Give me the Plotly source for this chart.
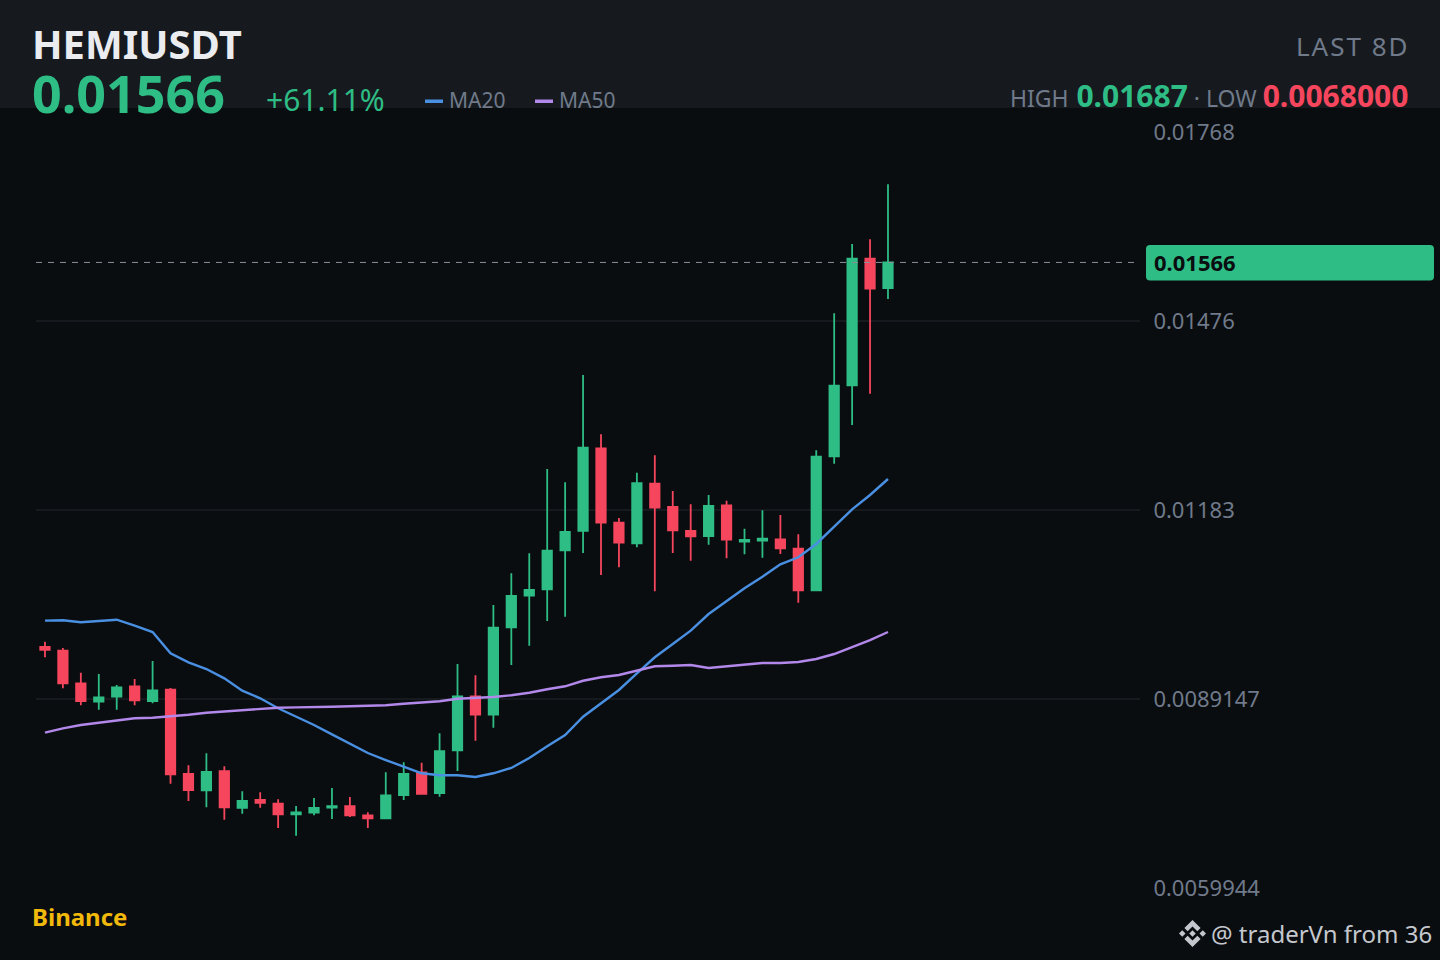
import plotly.graph_objects as go

W = 1440
H = 960

SYMBOL = "HEMIUSDT"
LAST_PRICE = 0.01566
LAST_LABEL = "0.01566"
CHANGE = "+61.11%"
HIGH_LABEL = "0.01687"
LOW_LABEL = "0.0068000"

tick_vals = [0.0059944, 0.0089147, 0.0118350, 0.0147553, 0.0176756]
tick_text = ["0.0059944", "0.0089147", "0.01183", "0.01476", "0.01768"]

opens = [0.009718, 0.009661, 0.009157, 0.008873, 0.008950, 0.009111, 0.008884, 0.009058,
         0.007756, 0.007504, 0.007798, 0.007231, 0.007354, 0.007297, 0.007133, 0.007158,
         0.007235, 0.007261, 0.007118, 0.007071, 0.007431, 0.007782, 0.007462, 0.008122,
         0.008956, 0.008672, 0.010023, 0.010511, 0.010610, 0.011212, 0.011511, 0.012788,
         0.011639, 0.011321, 0.012241, 0.011881, 0.011511, 0.011433, 0.011908, 0.011345,
         0.011361, 0.011382, 0.011237, 0.010594, 0.012665, 0.013762, 0.015718, 0.015265]
highs = [0.009800, 0.009703, 0.009321, 0.009301, 0.009131, 0.009224, 0.009502, 0.009085,
         0.007890, 0.008076, 0.007875, 0.007489, 0.007473, 0.007365, 0.007261, 0.007385,
         0.007540, 0.007401, 0.007164, 0.007782, 0.007937, 0.007930, 0.008385, 0.009456,
         0.009281, 0.010367, 0.010857, 0.011166, 0.012469, 0.012263, 0.013921, 0.013005,
         0.011711, 0.012411, 0.012680, 0.012129, 0.011923, 0.012067, 0.011979, 0.011546,
         0.011830, 0.011758, 0.011460, 0.012757, 0.014874, 0.015945, 0.016018, 0.016870]
lows = [0.009559, 0.009080, 0.008817, 0.008749, 0.008749, 0.008817, 0.008848, 0.007606,
        0.007339, 0.007241, 0.007050, 0.007142, 0.007235, 0.006922, 0.006800, 0.007118,
        0.007061, 0.007091, 0.006922, 0.007061, 0.007354, 0.007451, 0.007405, 0.007802,
        0.008270, 0.008471, 0.009440, 0.009738, 0.010120, 0.010186, 0.011171, 0.010831,
        0.010950, 0.011259, 0.010579, 0.011171, 0.011052, 0.011299, 0.011089, 0.011151,
        0.011098, 0.011155, 0.010403, 0.010583, 0.012550, 0.013148, 0.013632, 0.015095]
closes = [0.009676, 0.009157, 0.008884, 0.008941, 0.009095, 0.008895, 0.009049, 0.007751,
          0.007509, 0.007787, 0.007241, 0.007339, 0.007312, 0.007133, 0.007164, 0.007231,
          0.007261, 0.007118, 0.007071, 0.007427, 0.007756, 0.007451, 0.008107, 0.008956,
          0.008672, 0.010016, 0.010506, 0.010599, 0.011206, 0.011495, 0.012798, 0.011639,
          0.011330, 0.012248, 0.011871, 0.011521, 0.011429, 0.011897, 0.011376, 0.011372,
          0.011392, 0.011243, 0.010594, 0.012659, 0.013756, 0.015718, 0.015254, 0.015660]

ma20 = [0.010125, 0.010131, 0.010100, 0.010115, 0.010140, 0.010047, 0.009950, 0.009621,
        0.009482, 0.009378, 0.009234, 0.009043, 0.008926, 0.008771, 0.008641, 0.008513,
        0.008369, 0.008219, 0.008080, 0.007972, 0.007875, 0.007767, 0.007736, 0.007736,
        0.007710, 0.007767, 0.007849, 0.008003, 0.008184, 0.008358, 0.008641, 0.008848,
        0.009054, 0.009312, 0.009559, 0.009765, 0.009970, 0.010228, 0.010429, 0.010625,
        0.010804, 0.010996, 0.011104, 0.011310, 0.011577, 0.011846, 0.012067, 0.012314]
ma50 = [0.008394, 0.008462, 0.008513, 0.008549, 0.008590, 0.008617, 0.008626, 0.008647,
        0.008672, 0.008703, 0.008725, 0.008745, 0.008765, 0.008780, 0.008786, 0.008786,
        0.008796, 0.008802, 0.008807, 0.008817, 0.008842, 0.008864, 0.008879, 0.008919,
        0.008930, 0.008946, 0.008972, 0.009012, 0.009065, 0.009111, 0.009197, 0.009250,
        0.009286, 0.009352, 0.009420, 0.009429, 0.009440, 0.009394, 0.009417, 0.009448,
        0.009471, 0.009471, 0.009486, 0.009533, 0.009610, 0.009718, 0.009826, 0.009950]

days = list(range(len(closes)))

UP = "#2EBD85"
DOWN = "#F6465D"
GREY = "#707A8A"
BG = "#0A0D10"
HEADER = "#161A1F"
GRID = "#16191D"
FONT = "Noto Sans"


def px(x):
    return x / W


def py(y):
    return 1 - y / H


def poly(points, cx, cy, r):
    # small svg polygon in paper coords, used for the logo
    parts = []
    for n, (a, b) in enumerate(points):
        parts.append(("M" if n == 0 else "L") + f"{px(cx + a * r):.5f},{py(cy + b * r):.5f}")
    return " ".join(parts) + " Z"


def rounded(x0, y0, x1, y1, r):
    return (f"M{px(x0 + r):.5f},{py(y0):.5f} L{px(x1 - r):.5f},{py(y0):.5f} "
            f"Q{px(x1):.5f},{py(y0):.5f} {px(x1):.5f},{py(y0 + r):.5f} "
            f"L{px(x1):.5f},{py(y1 - r):.5f} Q{px(x1):.5f},{py(y1):.5f} {px(x1 - r):.5f},{py(y1):.5f} "
            f"L{px(x0 + r):.5f},{py(y1):.5f} Q{px(x0):.5f},{py(y1):.5f} {px(x0):.5f},{py(y1 - r):.5f} "
            f"L{px(x0):.5f},{py(y0 + r):.5f} Q{px(x0):.5f},{py(y0):.5f} {px(x0 + r):.5f},{py(y0):.5f} Z")


def note(x, y, text, size, color, anchor="left", bold=False):
    if bold:
        text = f"<b>{text}</b>"
    fig.add_annotation(xref="paper", yref="paper", x=px(x), y=py(y), text=text, showarrow=False,
                       xanchor=anchor, yanchor="middle", borderpad=0, borderwidth=0,
                       font=dict(family=FONT, size=size, color=color))


fig = go.Figure()

fig.add_trace(go.Candlestick(
    x=days, open=opens, high=highs, low=lows, close=closes,
    increasing=dict(line=dict(color=UP, width=1.8), fillcolor=UP),
    decreasing=dict(line=dict(color=DOWN, width=1.8), fillcolor=DOWN),
    whiskerwidth=0, hoverinfo="skip", showlegend=False))
fig.add_trace(go.Scatter(x=days, y=ma20, mode="lines", line=dict(color="#4A90E2", width=2.4),
                         hoverinfo="skip", showlegend=False))
fig.add_trace(go.Scatter(x=days, y=ma50, mode="lines", line=dict(color="#B388EB", width=2.4),
                         hoverinfo="skip", showlegend=False))

fig.update_layout(
    width=W, height=H, margin=dict(l=0, r=0, t=0, b=0, autoexpand=False),
    paper_bgcolor=BG, plot_bgcolor=BG, showlegend=False, boxgap=0.25,
    font=dict(family=FONT, color=GREY),
    xaxis=dict(domain=[px(36), px(1140)], range=[-0.5, 61.05], visible=False, rangeslider=dict(visible=False)),
    yaxis=dict(domain=[py(888), py(132)], range=[tick_vals[0], tick_vals[-1]], side="right",
               tickmode="array", tickvals=tick_vals, ticktext=tick_text,
               ticks="outside", ticklen=8, tickcolor="rgba(0,0,0,0)",
               tickfont=dict(family=FONT, size=22, color=GREY),
               gridcolor=GRID, gridwidth=2, showline=False, zeroline=False),
)

# header band
fig.add_shape(type="rect", xref="paper", yref="paper", x0=0, x1=1, y0=py(108), y1=1,
              fillcolor=HEADER, line_width=0, layer="below")
# last price line + tag
fig.add_shape(type="line", xref="x domain", yref="y", x0=0, x1=1, y0=LAST_PRICE, y1=LAST_PRICE,
              line=dict(color="#8A8F98", width=1, dash="6px,6px"), layer="above")
fig.add_shape(type="path", xref="paper", yref="paper", path=rounded(1146, 245, 1434, 280.5, 4),
              fillcolor=UP, line_width=0, layer="above")

# binance logo next to the watermark
LOGO = "#C4C8CE"
chevron = [(0, -1), (0.6, -0.4), (0.36, -0.16), (0, -0.52), (-0.36, -0.16), (-0.6, -0.4)]
diamond = [(0, -0.24), (0.24, 0), (0, 0.24), (-0.24, 0)]
logo_paths = [
    poly(chevron, 1192.5, 933.5, 13.5),
    poly([(a, -b) for a, b in chevron], 1192.5, 933.5, 13.5),
    poly(diamond, 1192.5, 933.5, 13.5),
    poly([(a - 0.76, b) for a, b in diamond], 1192.5, 933.5, 13.5),
    poly([(a + 0.76, b) for a, b in diamond], 1192.5, 933.5, 13.5),
]
for p in logo_paths:
    fig.add_shape(type="path", xref="paper", yref="paper", path=p, fillcolor=LOGO, line_width=0)

note(32, 44, SYMBOL, 40, "#EAECEF", bold=True)
note(32, 92, LAST_LABEL, 52, UP, bold=True)
note(266, 100, CHANGE, 30, UP)
note(449, 100, "MA20", 21, GREY)
note(559, 100, "MA50", 21, GREY)
fig.add_shape(type="rect", xref="paper", yref="paper", x0=px(425), x1=px(443), y0=py(103), y1=py(99.5),
              fillcolor="#4A90E2", line_width=0)
fig.add_shape(type="rect", xref="paper", yref="paper", x0=px(535), x1=px(553), y0=py(103), y1=py(99.5),
              fillcolor="#B388EB", line_width=0)

note(1410, 46, '<span style="letter-spacing:2px">LAST 8D</span>', 26, GREY, anchor="right")
note(1408, 96,
     f'HIGH<span style="font-size:30px"> </span><b><span style="color:{UP};font-size:30px">{HIGH_LABEL}</span></b> · LOW '
     f'<b><span style="color:{DOWN};font-size:30px">{LOW_LABEL}</span></b>',
     23, GREY, anchor="right")
note(1154, 262, LAST_LABEL, 22, "#0A0D10", bold=True)
note(32, 916, "Binance", 24, "#F0B90B", bold=True)
note(1432, 933, "@ traderVn from 36", 24, "#C4C8CE", anchor="right")

fig.write_html("out.html", config=dict(displayModeBar=False),
               post_script="document.body.style.margin='0';document.body.style.overflow='hidden';")
